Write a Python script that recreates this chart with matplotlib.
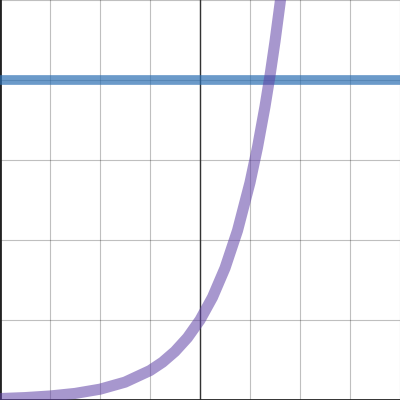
import matplotlib.pyplot as plt

# curve points
curve_x = [-4.0, -3.5, -3.0, -2.5, -2.0, -1.5, -1.0, -0.75, -0.5, -0.25, 0.0,
           0.25, 0.5, 0.75, 1.0, 1.15, 1.3, 1.4, 1.5, 1.6, 1.7]
curve_y = [0.018, 0.03, 0.05, 0.082, 0.135, 0.223, 0.368, 0.472, 0.607, 0.779, 1.0,
           1.284, 1.649, 2.117, 2.718, 3.158, 3.669, 4.055, 4.482, 4.953, 5.474]
level_y = 4.0

fig = plt.figure(figsize=(4, 4), dpi=100)
ax = fig.add_axes([0, 0, 1, 1])
ax.set_xlim(-4, 4)
ax.set_ylim(0, 5)

for gx in range(-4, 5):
    ax.axvline(gx, color='#000000', alpha=0.25, lw=0.8)
for gy in range(0, 6):
    ax.axhline(gy, color='#000000', alpha=0.25, lw=0.8)
ax.axvline(0, color='#333333', lw=1)
ax.axhline(0, color='#222222', lw=2)
ax.axvline(-4, color='#222222', lw=2)

ax.axhline(level_y, color='#2d70b3', alpha=0.7, lw=7)
ax.plot(curve_x, curve_y, color='#6042a6', alpha=0.55, lw=8, solid_capstyle='butt')

ax.set_xticks([])
ax.set_yticks([])
for s in ax.spines.values():
    s.set_visible(False)
fig.savefig('out.png')
